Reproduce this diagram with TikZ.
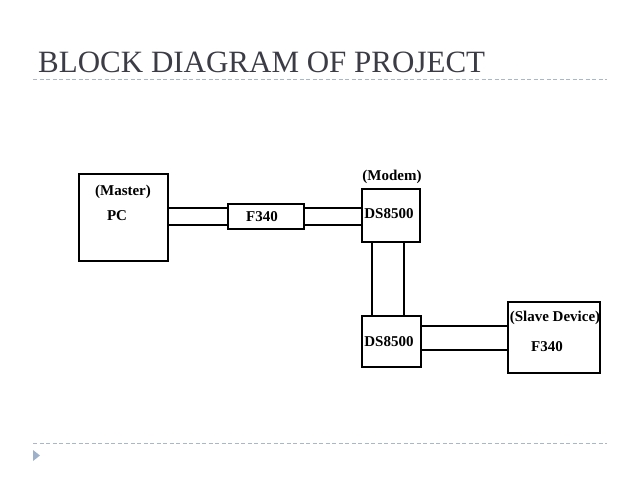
\documentclass[tikz,border=0pt]{standalone}
\usepackage{fontspec}
\setmainfont{Liberation Serif}
\definecolor{titlegray}{HTML}{3C3C46}
\definecolor{rulegray}{HTML}{A8B8C8}
\definecolor{markblue}{HTML}{9DB2CA}
\begin{document}
\begin{tikzpicture}[x=1pt,y=-1pt,
    box/.style={draw,line width=1.3pt,minimum width=#1,inner sep=0pt},
    lbl/.style={font=\fontsize{15}{17}\selectfont\bfseries,inner sep=0pt},
    wire/.style={line width=1.3pt},
    rule/.style={rulegray,line width=0.9pt,dash pattern=on 4pt off 2.5pt}]
            \useasboundingbox (0,0) rectangle (638,479);
            \node[titlegray,anchor=base west,inner sep=0pt,font=\fontsize{31}{36}\selectfont](title)at(38,72){BLOCK DIAGRAM OF PROJECT};
            \coordinate(r1)at(33,79);
            \coordinate(r2)at(607,79);
            \coordinate(r3)at(33,443);
            \coordinate(r4)at(607,443);
            \draw[rule](r1)--(r2);
            \draw[rule](r3)--(r4);
            \fill[markblue](33,450)--(40,455.5)--(33,461)--cycle;
            \node[box=89pt,minimum height=87pt](pc)at(123.5,217.5){};
            \node[box=76pt,minimum height=25pt](f1)at(266,216.5){};
            \node[box=58pt,minimum height=53pt](m1)at(391,215.5){};
            \node[box=59pt,minimum height=51pt](m2)at(391.5,341.5){};
            \node[box=92pt,minimum height=71pt](sl)at(554,337.5){};
            \node[lbl](master)at(123,192){(Master)};
            \node[lbl](pctext)at(117,216){PC};
            \node[lbl](f1text)at(262,217){F340};
            \node[lbl](modem)at(392,177){(Modem)};
            \node[lbl](m1text)at(389,214){DS8500};
            \node[lbl](m2text)at(389,342){DS8500};
            \node[lbl](slave)at(555,318){(Slave Device)};
            \node[lbl](sltext)at(547,347){F340};
            \coordinate(a1)at([yshift=8.5pt]f1.west);
            \coordinate(a2)at([yshift=-8.5pt]f1.west);
            \coordinate(b1)at([yshift=8.5pt]f1.east);
            \coordinate(b2)at([yshift=-8.5pt]f1.east);
            \coordinate(c1)at([xshift=-19pt]m1.south);
            \coordinate(c2)at([xshift=13pt]m1.south);
            \coordinate(d1)at([yshift=15.5pt]m2.east);
            \coordinate(d2)at([yshift=-8.5pt]m2.east);
            \draw[wire](a1)--(a1-|pc.east);
            \draw[wire](a2)--(a2-|pc.east);
            \draw[wire](b1)--(b1-|m1.west);
            \draw[wire](b2)--(b2-|m1.west);
            \draw[wire](c1)--(c1|-m2.north);
            \draw[wire](c2)--(c2|-m2.north);
            \draw[wire](d1)--(d1-|sl.west);
            \draw[wire](d2)--(d2-|sl.west);
        \end{tikzpicture}
\end{document}
